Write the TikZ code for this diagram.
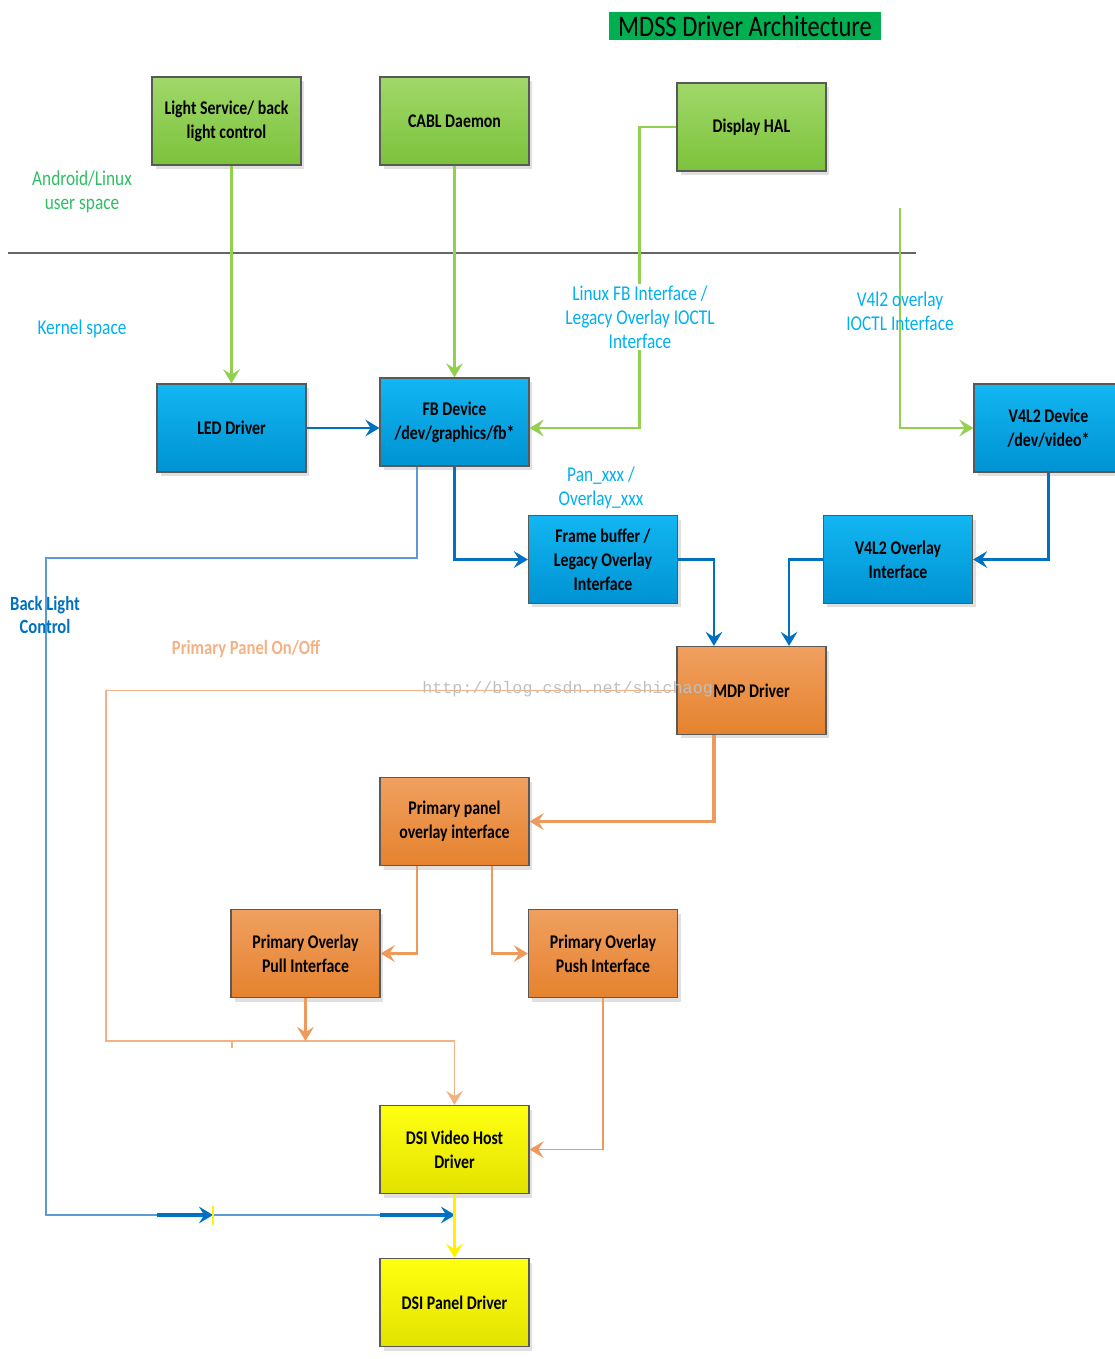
\documentclass[tikz,border=0pt]{standalone}
\usepackage{fontspec}
\setmainfont{Carlito}[FakeStretch=0.82]
\newfontfamily\wmfont{Liberation Mono}
\usetikzlibrary{arrows.meta,calc,shadows}

\definecolor{titlegreen}{HTML}{00B050}
\definecolor{grnA}{HTML}{A0D86A}
\definecolor{grnB}{HTML}{7CC23A}
\definecolor{bluA}{HTML}{12B6F2}
\definecolor{bluB}{HTML}{0092D2}
\definecolor{orgA}{HTML}{F0A060}
\definecolor{orgB}{HTML}{E5822E}
\definecolor{yelA}{HTML}{FFFF10}
\definecolor{yelB}{HTML}{E2E200}
\definecolor{lngreen}{HTML}{92D050}
\definecolor{lnblue}{HTML}{0070C0}
\definecolor{lnlight}{HTML}{5B9BD5}
\definecolor{lnorange}{HTML}{EE9A5C}
\definecolor{lnpale}{HTML}{F4B183}
\definecolor{txcyan}{HTML}{00B0F0}
\definecolor{txgreen}{HTML}{2EBE62}

\begin{document}
\begin{tikzpicture}[x=0.02cm, y=-0.02cm,
        >={Stealth[length=8pt,width=9.5pt,inset=3pt]},
        every node/.style={font=\fontsize{12}{13.6}\selectfont, align=center},
        box/.style={draw=black!65, line width=0.7pt, minimum width=2.98cm, minimum height=1.76cm, inner sep=2pt,
            font=\bfseries\fontsize{11}{13.6}\selectfont,
            drop shadow={shadow xshift=0.07cm, shadow yshift=-0.08cm, fill=black!12, opacity=1}},
        gbox/.style={box, top color=grnA, bottom color=grnB},
        bbox/.style={box, top color=bluA, bottom color=bluB},
        obox/.style={box, top color=orgA, bottom color=orgB},
        ybox/.style={box, top color=yelA, bottom color=yelB},
        gline/.style={draw=lngreen, line width=1.5pt, ->},
        bline/.style={draw=lnblue, line width=1.5pt, ->},
        bthin/.style={draw=lnlight, line width=1pt},
        oline/.style={draw=lnorange, line width=1.5pt, ->},
        opale/.style={draw=lnpale, line width=1pt},
        yline/.style={draw=yellow, line width=1.4pt, ->},
        lbl/.style={text=txcyan}]
    \useasboundingbox (0,0) rectangle (1115,1359);

    \node[fill=titlegreen, minimum width=5.44cm, minimum height=0.58cm, inner sep=0pt, font=\fontsize{17}{18}\selectfont] (title) at (745,26) {MDSS Driver Architecture};

    \node[gbox] (ls) at (226.5,121) {Light Service/ back\\light control};
    \node[gbox] (cabl) at (454.5,121) {CABL Daemon};
    \node[gbox] (hal) at (751.5,127) {Display HAL};

    \node[bbox] (led) at (231.5,428) {LED Driver};
    \node[bbox] (fb) at (454.5,422) {FB Device\\/dev/graphics/fb*};
    \node[bbox] (v4d) at (1048.5,428) {V4L2 Device\\/dev/video*};
    \node[bbox] (fbuf) at (603,559.5) {Frame buffer /\\Legacy Overlay\\Interface};
    \node[bbox] (v4o) at (898,559.5) {V4L2 Overlay\\Interface};

    \node[obox] (mdp) at (751.5,690.5) {MDP Driver};
    \node[obox] (ppo) at (454.5,821.5) {Primary panel\\overlay interface};
    \node[obox] (pull) at (305.5,953.5) {Primary Overlay\\Pull Interface};
    \node[obox] (push) at (603,953.5) {Primary Overlay\\Push Interface};

    \node[ybox] (vh) at (454.5,1149.5) {DSI Video Host\\Driver};
    \node[ybox] (pd) at (454.5,1302.5) {DSI Panel Driver};

    \node[text=txgreen] (usr) at (82,192) {Android/Linux\\user space};
    \node[lbl] (krn) at (82,329) {Kernel space};
    \draw[black!60, line width=1.3pt] (8,253) -- (916,253);

    \coordinate (v4top) at (900,208);
    \coordinate (blturn) at (46,558);
    \coordinate (join) at (455,1215);
    \coordinate (ba1) at (157,1215);
    \coordinate (ba2) at (213,1215);
    \coordinate (ba3) at (380,1215);
    \coordinate (onoff) at (106,1041);

    \draw[gline] (ls.south -| led.north) -- (led.north);
    \draw[gline] (cabl.south) -- (fb.north);
    \draw[gline] (hal.west) -- ++(-37,0) |- (fb.east |- led.east);
    \draw[gline] (v4top) |- (v4d.west);

    \draw[bline] (led.east) -- (led.east -| fb.west);
    \draw[bline] (fb.south) |- (fbuf.west);
    \draw[bline] (fbuf.east) -| ($(mdp.north west)!0.25!(mdp.north east)$);
    \draw[bline] (v4d.south) |- (v4o.east);
    \draw[bline] (v4o.west) -| ($(mdp.north west)!0.75!(mdp.north east)$);

    \draw[bthin] ($(fb.south west)!0.25!(fb.south east)$) |- (blturn) |- (join);
    \draw[bline, line width=2.2pt] (ba1) -- (ba2);
    \draw[bline, line width=2.2pt] (ba3) -- (join);
    \draw[yellow, line width=1pt] (213,1206) -- (213,1225);

    \draw[oline, line width=2pt] ($(mdp.south west)!0.25!(mdp.south east)$) |- (ppo.east);
    \draw[oline] ($(ppo.south west)!0.25!(ppo.south east)$) |- (pull.east);
    \draw[oline] ($(ppo.south west)!0.75!(ppo.south east)$) |- (push.west);
    \draw[opale, ->] (mdp.west) -| (onoff) -| (vh.north);
    \draw[lnpale, line width=1pt] (232,1041) -- (232,1048);
    \draw[oline] (pull.south) -- (pull.south |- onoff);
    \draw[oline, line width=1.1pt] (push.south) |- (vh.east);

    \draw[yline] (vh.south) -- (pd.north);

    \node[lbl, fill=white, inner sep=1pt] (fbif) at (640,317) {Linux FB Interface /\\Legacy Overlay IOCTL\\Interface};
    \node[lbl] (v4if) at (900,311) {V4l2 overlay\\IOCTL Interface};
    \node[lbl] (pan) at (601,488) {Pan\_xxx /\\Overlay\_xxx};
    \node[text=lnblue, font=\bfseries\fontsize{11.5}{13.6}\selectfont] (blc) at (45,615) {Back Light\\Control};
    \node[text=lnpale, font=\bfseries\fontsize{11.5}{13.6}\selectfont] (onoffl) at (246,649) {Primary Panel On/Off};
    \node[anchor=west, text=black!25, font=\wmfont\fontsize{9.5}{11}\selectfont, inner sep=0pt] (wm) at (422,689) {http://blog.csdn.net/shichaog};
\end{tikzpicture}
\end{document}
